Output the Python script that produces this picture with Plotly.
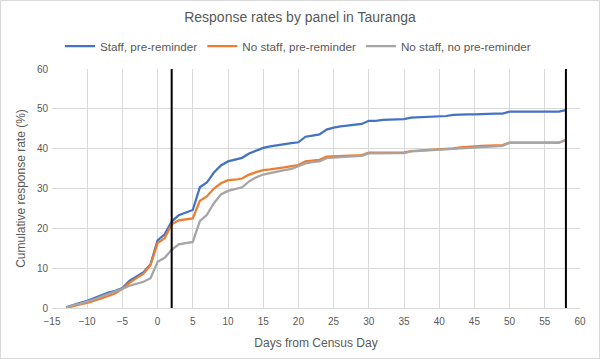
import plotly.graph_objects as go

days = list(range(-13, 59))

staff_pre = [0.2, 0.8, 1.3, 1.8, 2.5, 3.3, 3.9, 4.3, 5.0, 6.8, 7.8, 9.0, 11.0,
             17.0, 18.5, 21.7, 23.3, 24.0, 24.6, 30.3, 31.5, 34.0, 35.8, 36.8,
             37.2, 37.7, 38.8, 39.5, 40.2, 40.6, 40.9, 41.1, 41.4, 41.6, 43.0,
             43.3, 43.6, 44.8, 45.3, 45.6, 45.8, 45.9, 46.2, 47.0, 47.0, 47.2,
             47.3, 47.4, 47.4, 47.8, 47.9, 48.0, 48.0, 48.1, 48.2, 48.5, 48.6,
             48.6, 48.6, 48.7, 48.7, 48.8, 48.8, 49.3, 49.3, 49.3, 49.3, 49.3,
             49.3, 49.3, 49.3, 49.7]

nostaff_pre = [0.0, 0.5, 0.9, 1.3, 1.8, 2.4, 3.0, 3.7, 4.8, 6.3, 7.5, 8.6, 10.8,
               16.3, 17.5, 21.0, 22.0, 22.3, 22.5, 26.9, 28.0, 30.0, 31.3, 32.1,
               32.2, 32.5, 33.5, 34.1, 34.6, 34.8, 35.0, 35.3, 35.6, 35.9, 36.8,
               37.0, 37.2, 38.0, 38.1, 38.2, 38.3, 38.3, 38.4, 39.0, 39.0, 39.0,
               39.0, 39.0, 39.1, 39.4, 39.5, 39.7, 39.8, 39.9, 40.0, 40.1, 40.3,
               40.5, 40.6, 40.7, 40.8, 40.9, 40.9, 41.5, 41.5, 41.5, 41.5, 41.5,
               41.5, 41.5, 41.5, 42.2]

nostaff_nopre = [0.1, 0.7, 1.1, 1.6, 2.2, 2.9, 3.5, 4.1, 4.8, 5.6, 6.1, 6.6, 7.5,
                 11.6, 12.6, 14.6, 16.0, 16.3, 16.6, 21.8, 23.4, 26.3, 28.5, 29.4,
                 29.9, 30.3, 31.8, 32.8, 33.5, 33.9, 34.3, 34.6, 34.9, 35.5, 36.3,
                 36.6, 36.8, 37.6, 37.8, 37.9, 38.0, 38.1, 38.2, 38.8, 38.8, 38.8,
                 38.8, 38.8, 38.9, 39.3, 39.4, 39.5, 39.6, 39.7, 39.8, 39.9, 40.0,
                 40.2, 40.3, 40.4, 40.5, 40.6, 40.7, 41.5, 41.5, 41.5, 41.5, 41.5,
                 41.5, 41.5, 41.5, 42.1]

series_names = ["Staff, pre-reminder", "No staff, pre-reminder", "No staff, no pre-reminder"]
series_colors = ["#4472C4", "#ED7D31", "#A5A5A5"]
marker_days = [2, 58]

fig = go.Figure()
for name, vals, col in zip(series_names, [staff_pre, nostaff_pre, nostaff_nopre], series_colors):
    fig.add_trace(go.Scatter(x=days, y=vals, mode="lines", name=name,
                             line=dict(color=col, width=2.25)))

for d in marker_days:
    fig.add_shape(type="line", xref="x", yref="y", x0=d, x1=d, y0=0, y1=60,
                  line=dict(color="black", width=2))

L, R, T, B = 52, 20, 69, 51
W, H = 600, 359
pw, ph = W - L - R, H - T - B
fig.add_shape(type="rect", xref="paper", yref="paper",
              x0=(0.5 - L) / pw, x1=(W - 0.5 - L) / pw,
              y0=-(B - 0.5) / ph, y1=1 + (T - 0.5) / ph,
              line=dict(color="#D9D9D9", width=1), layer="below")

fig.update_layout(
    width=W, height=H,
    margin=dict(l=L, r=R, t=T, b=B, autoexpand=False),
    paper_bgcolor="white", plot_bgcolor="white",
    font=dict(family="Liberation Sans, Arial, sans-serif", color="#595959", size=10),
    title=dict(text="Response rates by panel in Tauranga", x=0.5, xanchor="center",
               y=1 - 17 / H, yanchor="middle",
               font=dict(size=14, color="#595959", family="Liberation Sans, Arial, sans-serif")),
    legend=dict(orientation="h", x=(60 - L) / pw, xanchor="left", y=1 + 23 / ph, yanchor="middle",
                font=dict(size=11.7, color="#595959"), bgcolor="rgba(0,0,0,0)",
                itemwidth=30, tracegroupgap=0),
    xaxis=dict(range=[-15, 60], dtick=5, tick0=-15, showgrid=True, gridcolor="#D9D9D9",
               gridwidth=1, zeroline=False, showline=True, linecolor="#D9D9D9",
               ticks="", automargin=False, ticklabelstandoff=4,
               tickfont=dict(size=10, color="#595959"),
               title=dict(text="Days from Census Day", font=dict(size=12, color="#595959"), standoff=12)),
    yaxis=dict(range=[0, 60], dtick=10, showgrid=True, gridcolor="#D9D9D9", gridwidth=1,
               zeroline=False, showline=False, ticks="", automargin=False,
               ticklabelstandoff=3,
               tickfont=dict(size=10, color="#595959"),
               title=dict(text="Cumulative response rate (%)", font=dict(size=12, color="#595959"), standoff=8)),
)

fig.write_html("out.html", config={"displayModeBar": False},
               post_script="document.body.style.margin='0';")
